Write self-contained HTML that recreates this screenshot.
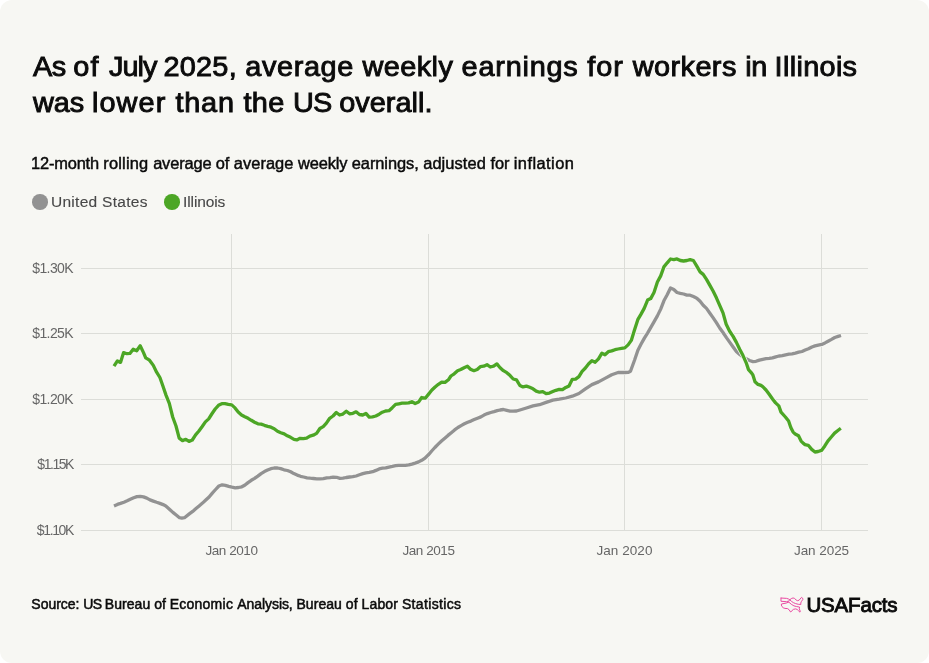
<!DOCTYPE html>
<html lang="en"><head><meta charset="utf-8"><title>Average weekly earnings - Illinois</title>
<style>
html,body{margin:0;padding:0;background:#fff;}
body{width:929px;height:663px;overflow:hidden;font-family:"Liberation Sans",sans-serif;}
.card{position:absolute;left:0;top:0;width:929px;height:663px;background:#f7f7f3;border-radius:12px;overflow:hidden;}
.title{position:absolute;left:0;top:48.6px;margin:0;font-size:27.6px;line-height:36px;font-weight:400;color:#0b0b0b;white-space:nowrap;-webkit-text-stroke:0.9px #0b0b0b;}
.title span{display:block;position:relative;transform-origin:0 0;transform:scaleX(1.047);}
i{font-style:normal;}
.sub{position:absolute;left:31.45px;top:153.3px;margin:0;font-size:16px;line-height:22px;font-weight:400;color:#0b0b0b;white-space:nowrap;-webkit-text-stroke:0.45px #0b0b0b;transform-origin:0 0;transform:scaleX(1.025);}
.legend{position:absolute;left:32px;top:191px;height:22px;font-size:15.5px;line-height:22px;color:#474747;white-space:nowrap;-webkit-text-stroke:0.12px #474747;}
.legend .dot{position:absolute;top:3px;width:15.5px;height:15.5px;border-radius:50%;}
.legend .lab{position:absolute;top:0;}
.src{position:absolute;left:31.35px;top:594px;margin:0;font-size:14px;line-height:20px;color:#0b0b0b;white-space:nowrap;-webkit-text-stroke:0.5px #0b0b0b;}
.logo{position:absolute;left:806.5px;top:591.5px;font-size:20.5px;line-height:26px;font-weight:400;color:#0b0b0b;letter-spacing:-0.18px;white-space:nowrap;-webkit-text-stroke:0.9px #0b0b0b;}
svg text{font-family:"Liberation Sans",sans-serif;}
</style></head><body>
<div class="card">
<h1 class="title"><span style="left:33.19px"><i style="letter-spacing:-0.442px">As </i><i style="letter-spacing:1.123px">of </i><i style="letter-spacing:-0.946px">July </i><i style="letter-spacing:0.219px">2025, </i><i style="letter-spacing:0.593px">average </i><i style="letter-spacing:0.364px">weekly </i><i style="letter-spacing:0.721px">earnings </i><i style="letter-spacing:0.909px">for </i><i style="letter-spacing:0.376px">workers </i><i style="letter-spacing:-0.337px">in </i><i style="letter-spacing:0.295px">Illinois</i></span><span style="left:33.34px"><i style="letter-spacing:-0.119px">was </i><i style="letter-spacing:1.047px">lower </i><i style="letter-spacing:0.696px">than </i><i style="letter-spacing:0.291px">the </i><i style="letter-spacing:-0.609px">US </i><i style="letter-spacing:0.021px">overall.</i></span></h1>
<p class="sub"><i style="letter-spacing:-0.167px">12-month </i><i style="letter-spacing:0.185px">rolling </i><i style="letter-spacing:-0.149px">average </i><i style="letter-spacing:-0.044px">of </i><i style="letter-spacing:0.025px">average </i><i style="letter-spacing:-0.113px">weekly </i><i style="letter-spacing:-0.061px">earnings, </i><i style="letter-spacing:0.091px">adjusted </i><i style="letter-spacing:-0.127px">for </i><i style="letter-spacing:0.434px">inflation</i></p>
<div class="legend">
<span class="dot" style="left:0;background:#929292"></span><span class="lab" style="left:19px;letter-spacing:0.28px">United States</span>
<span class="dot" style="left:132px;background:#4ca625"></span><span class="lab" style="left:151px;letter-spacing:-0.1px">Illinois</span>
</div>
<svg width="929" height="663" viewBox="0 0 929 663" style="position:absolute;left:0;top:0">
<g stroke="#dcddd8" stroke-width="1" fill="none" shape-rendering="crispEdges">
<path d="M81 268.5H868M81 333.5H868M81 399.5H868M81 464.5H868M81 530.5H868"/>
<path d="M231.5 234V531M428.5 234V531M624.5 234V531M821.5 234V531"/>
</g>
<g font-size="14" fill="#666" text-anchor="end" letter-spacing="-0.6">
<text x="73" y="273">$1.30K</text>
<text x="73" y="338">$1.25K</text>
<text x="73" y="404">$1.20K</text>
<text x="73" y="469" letter-spacing="-1.45">$1.15K</text>
<text x="73" y="535" letter-spacing="-1.37">$1.10K</text>
</g>
<g font-size="13.5" fill="#666" text-anchor="middle" letter-spacing="-0.45">
<text x="231.5" y="555">Jan 2010</text>
<text x="428.5" y="555">Jan 2015</text>
<text x="624.5" y="555" letter-spacing="0.05">Jan 2020</text>
<text x="821.5" y="555" letter-spacing="-0.06">Jan 2025</text>
</g>
<g fill="none" stroke-linejoin="round" stroke-linecap="butt">
<path d="M114.0 505.9 L117.4 504.4 L120.5 503.4 L123.9 502.2 L127.2 500.8 L130.3 499.3 L133.7 497.8 L137.0 496.6 L140.2 496.4 L143.5 496.9 L146.8 498.1 L150.0 499.9 L153.3 501.1 L156.6 502.3 L159.9 503.4 L163.1 504.6 L165.8 505.9 L169.7 509.4 L172.9 512.4 L176.2 515.0 L179.5 517.7 L181.9 518.1 L184.5 517.7 L189.3 513.9 L192.7 511.4 L196.0 508.6 L199.1 505.9 L202.5 503.1 L205.8 500.0 L209.1 497.0 L212.3 493.1 L215.6 489.5 L218.9 486.0 L222.2 484.8 L225.4 485.3 L228.7 486.3 L232.0 487.2 L235.2 487.8 L238.5 487.5 L241.8 486.8 L244.7 485.2 L248.0 482.6 L251.3 480.3 L254.6 478.4 L257.8 476.1 L261.1 473.6 L264.4 471.6 L267.6 470.1 L270.9 468.7 L274.2 468.0 L277.5 468.0 L280.7 468.6 L284.0 469.8 L287.4 470.5 L290.7 471.8 L293.8 473.6 L297.2 475.1 L300.5 476.3 L303.6 477.0 L307.0 477.8 L310.3 478.2 L313.6 478.5 L316.8 478.8 L320.1 478.8 L323.4 478.7 L326.7 477.9 L329.9 477.6 L333.2 477.2 L336.5 477.3 L339.9 478.4 L343.0 478.2 L346.3 477.5 L349.7 477.0 L352.8 476.7 L356.1 476.0 L359.5 474.8 L362.8 473.6 L365.9 472.8 L369.3 472.4 L372.7 471.7 L375.9 470.4 L379.2 468.9 L382.5 468.2 L385.7 467.9 L389.0 467.1 L392.3 466.4 L395.6 465.6 L398.8 465.3 L402.1 465.3 L405.4 465.3 L408.8 464.9 L411.9 464.1 L415.2 463.1 L418.6 461.9 L421.7 460.3 L425.0 458.1 L428.4 454.8 L431.7 451.0 L434.9 447.5 L438.2 444.2 L441.5 441.0 L444.8 438.2 L448.0 435.4 L451.3 432.7 L454.6 429.9 L457.9 427.5 L461.1 425.6 L464.4 423.8 L467.7 422.3 L470.9 421.1 L474.2 419.6 L477.5 418.2 L480.9 416.9 L484.0 415.1 L487.4 413.6 L490.7 412.5 L494.0 411.6 L497.2 410.6 L500.1 410.0 L503.4 409.5 L506.8 410.4 L510.1 411.2 L513.2 411.2 L516.5 411.0 L519.9 410.0 L526.4 408.0 L533.0 405.9 L539.5 404.7 L546.1 402.4 L552.8 400.1 L559.2 399.2 L565.8 398.0 L572.3 396.2 L578.9 393.5 L585.4 388.9 L591.9 384.6 L598.5 381.9 L605.0 378.4 L611.7 374.8 L618.1 372.5 L621.5 372.5 L624.8 372.5 L628.1 372.4 L630.5 371.3 L634.6 360.0 L637.9 350.2 L641.1 344.1 L644.4 338.1 L647.7 332.8 L650.7 327.7 L654.0 321.9 L657.4 315.9 L660.7 309.1 L663.9 300.8 L667.2 294.8 L670.5 288.0 L673.8 289.5 L677.0 292.5 L680.3 293.3 L683.6 294.0 L686.9 295.1 L690.1 295.2 L693.4 296.6 L696.8 298.2 L700.1 301.3 L703.2 305.3 L706.5 308.4 L709.9 313.2 L713.2 317.9 L716.4 322.7 L719.7 328.0 L723.0 332.5 L726.6 337.9 L729.8 342.4 L733.1 347.0 L736.4 351.5 L739.7 354.5 L742.9 356.8 L746.2 358.6 L749.5 360.5 L752.9 361.6 L756.0 361.3 L759.4 360.1 L762.7 359.3 L766.0 358.7 L769.2 358.3 L772.5 357.8 L775.8 356.8 L779.0 356.0 L782.3 355.6 L785.6 354.8 L788.9 354.2 L792.1 353.8 L795.4 353.1 L798.7 352.2 L802.0 351.5 L805.2 350.0 L808.5 348.8 L811.9 347.0 L815.0 345.9 L818.3 345.1 L821.7 344.4 L825.0 342.9 L828.1 341.2 L831.5 339.4 L834.8 337.5 L838.1 336.4 L841.0 335.5" stroke="#f7f7f3" stroke-width="4.8"/>
<path d="M114.0 505.9 L117.4 504.4 L120.5 503.4 L123.9 502.2 L127.2 500.8 L130.3 499.3 L133.7 497.8 L137.0 496.6 L140.2 496.4 L143.5 496.9 L146.8 498.1 L150.0 499.9 L153.3 501.1 L156.6 502.3 L159.9 503.4 L163.1 504.6 L165.8 505.9 L169.7 509.4 L172.9 512.4 L176.2 515.0 L179.5 517.7 L181.9 518.1 L184.5 517.7 L189.3 513.9 L192.7 511.4 L196.0 508.6 L199.1 505.9 L202.5 503.1 L205.8 500.0 L209.1 497.0 L212.3 493.1 L215.6 489.5 L218.9 486.0 L222.2 484.8 L225.4 485.3 L228.7 486.3 L232.0 487.2 L235.2 487.8 L238.5 487.5 L241.8 486.8 L244.7 485.2 L248.0 482.6 L251.3 480.3 L254.6 478.4 L257.8 476.1 L261.1 473.6 L264.4 471.6 L267.6 470.1 L270.9 468.7 L274.2 468.0 L277.5 468.0 L280.7 468.6 L284.0 469.8 L287.4 470.5 L290.7 471.8 L293.8 473.6 L297.2 475.1 L300.5 476.3 L303.6 477.0 L307.0 477.8 L310.3 478.2 L313.6 478.5 L316.8 478.8 L320.1 478.8 L323.4 478.7 L326.7 477.9 L329.9 477.6 L333.2 477.2 L336.5 477.3 L339.9 478.4 L343.0 478.2 L346.3 477.5 L349.7 477.0 L352.8 476.7 L356.1 476.0 L359.5 474.8 L362.8 473.6 L365.9 472.8 L369.3 472.4 L372.7 471.7 L375.9 470.4 L379.2 468.9 L382.5 468.2 L385.7 467.9 L389.0 467.1 L392.3 466.4 L395.6 465.6 L398.8 465.3 L402.1 465.3 L405.4 465.3 L408.8 464.9 L411.9 464.1 L415.2 463.1 L418.6 461.9 L421.7 460.3 L425.0 458.1 L428.4 454.8 L431.7 451.0 L434.9 447.5 L438.2 444.2 L441.5 441.0 L444.8 438.2 L448.0 435.4 L451.3 432.7 L454.6 429.9 L457.9 427.5 L461.1 425.6 L464.4 423.8 L467.7 422.3 L470.9 421.1 L474.2 419.6 L477.5 418.2 L480.9 416.9 L484.0 415.1 L487.4 413.6 L490.7 412.5 L494.0 411.6 L497.2 410.6 L500.1 410.0 L503.4 409.5 L506.8 410.4 L510.1 411.2 L513.2 411.2 L516.5 411.0 L519.9 410.0 L526.4 408.0 L533.0 405.9 L539.5 404.7 L546.1 402.4 L552.8 400.1 L559.2 399.2 L565.8 398.0 L572.3 396.2 L578.9 393.5 L585.4 388.9 L591.9 384.6 L598.5 381.9 L605.0 378.4 L611.7 374.8 L618.1 372.5 L621.5 372.5 L624.8 372.5 L628.1 372.4 L630.5 371.3 L634.6 360.0 L637.9 350.2 L641.1 344.1 L644.4 338.1 L647.7 332.8 L650.7 327.7 L654.0 321.9 L657.4 315.9 L660.7 309.1 L663.9 300.8 L667.2 294.8 L670.5 288.0 L673.8 289.5 L677.0 292.5 L680.3 293.3 L683.6 294.0 L686.9 295.1 L690.1 295.2 L693.4 296.6 L696.8 298.2 L700.1 301.3 L703.2 305.3 L706.5 308.4 L709.9 313.2 L713.2 317.9 L716.4 322.7 L719.7 328.0 L723.0 332.5 L726.6 337.9 L729.8 342.4 L733.1 347.0 L736.4 351.5 L739.7 354.5 L742.9 356.8 L746.2 358.6 L749.5 360.5 L752.9 361.6 L756.0 361.3 L759.4 360.1 L762.7 359.3 L766.0 358.7 L769.2 358.3 L772.5 357.8 L775.8 356.8 L779.0 356.0 L782.3 355.6 L785.6 354.8 L788.9 354.2 L792.1 353.8 L795.4 353.1 L798.7 352.2 L802.0 351.5 L805.2 350.0 L808.5 348.8 L811.9 347.0 L815.0 345.9 L818.3 345.1 L821.7 344.4 L825.0 342.9 L828.1 341.2 L831.5 339.4 L834.8 337.5 L838.1 336.4 L841.0 335.5" stroke="#929292" stroke-width="3.3"/>
<path d="M114.0 366.2 L117.4 360.9 L120.5 362.4 L123.6 352.6 L126.9 353.7 L129.9 353.4 L133.2 349.2 L136.7 350.7 L140.2 345.8 L143.5 352.6 L145.7 357.9 L149.5 360.2 L153.3 365.4 L156.6 372.2 L159.9 377.5 L162.9 386.0 L166.0 395.1 L169.3 403.4 L172.7 417.0 L176.0 426.0 L179.2 438.1 L182.5 440.6 L185.8 439.3 L189.0 441.4 L192.3 440.0 L195.6 434.8 L198.9 431.0 L202.2 426.5 L205.4 421.9 L208.7 418.9 L212.1 413.5 L215.2 409.0 L218.5 405.3 L221.8 403.7 L225.0 403.7 L228.3 404.4 L231.7 404.9 L235.0 407.9 L238.2 412.1 L241.5 415.0 L244.8 416.7 L248.1 418.3 L251.3 420.3 L254.6 422.2 L257.9 423.8 L261.1 424.1 L264.4 425.3 L267.7 426.3 L271.0 427.2 L274.2 428.7 L277.5 431.3 L280.8 432.8 L284.2 433.9 L287.3 435.8 L290.6 437.3 L294.0 439.3 L296.8 439.9 L300.1 438.3 L303.3 438.6 L306.6 438.2 L309.9 436.1 L313.2 435.2 L316.6 433.4 L319.9 428.5 L323.2 426.6 L326.4 423.1 L329.7 418.3 L333.0 416.0 L336.3 412.5 L339.6 415.0 L342.9 414.1 L346.3 411.2 L349.6 413.8 L352.9 413.3 L356.1 411.8 L359.4 414.5 L362.7 415.0 L365.9 413.4 L369.2 417.2 L372.5 416.8 L375.8 416.0 L379.2 414.2 L382.3 412.2 L385.6 411.0 L389.0 410.7 L392.3 407.7 L395.6 404.4 L398.9 403.8 L402.1 403.2 L405.4 403.2 L408.7 402.9 L411.9 401.7 L415.2 403.5 L418.5 402.1 L421.7 397.5 L425.0 398.1 L425.3 398.2 L428.6 394.1 L431.9 390.0 L435.1 387.0 L438.4 384.3 L441.7 382.1 L445.0 382.4 L448.4 379.8 L450.9 376.0 L454.2 373.8 L457.6 370.7 L460.7 369.5 L464.1 367.7 L467.4 366.2 L470.5 369.2 L473.9 370.7 L477.2 369.5 L480.3 366.7 L483.7 366.2 L487.0 364.7 L490.3 367.0 L493.6 366.2 L496.9 363.9 L500.1 367.7 L503.4 370.7 L506.8 372.7 L510.1 375.6 L513.2 379.0 L516.5 379.8 L519.9 385.5 L523.0 386.9 L526.4 386.1 L529.7 387.3 L533.0 388.8 L536.2 391.1 L539.5 392.2 L542.8 391.6 L546.1 393.7 L549.4 393.1 L552.8 391.6 L555.9 390.3 L559.2 389.4 L562.5 389.7 L565.8 387.4 L569.0 385.9 L572.3 379.3 L575.6 379.1 L578.9 376.6 L582.1 371.3 L585.4 368.0 L588.7 363.8 L591.9 360.7 L595.2 362.2 L598.5 358.9 L601.9 353.2 L605.0 354.7 L608.3 351.7 L611.7 350.9 L615.0 349.7 L618.1 349.0 L621.5 348.4 L624.8 347.9 L628.1 344.9 L631.3 340.4 L634.4 330.2 L637.8 319.7 L640.9 314.4 L644.2 308.4 L647.6 300.1 L650.7 298.6 L654.0 292.5 L657.4 282.0 L660.7 275.9 L663.9 266.9 L667.2 262.8 L670.5 259.0 L673.8 259.6 L677.0 258.9 L680.3 260.5 L683.6 261.0 L686.9 260.5 L690.1 259.6 L693.4 260.5 L696.8 266.1 L700.1 271.9 L703.2 274.4 L706.5 279.4 L709.9 285.4 L713.2 291.3 L716.4 297.8 L719.7 305.3 L723.0 312.9 L726.2 324.2 L729.5 331.0 L733.1 336.4 L736.4 342.4 L739.7 349.2 L742.9 355.3 L746.2 362.8 L748.5 369.6 L751.2 372.6 L752.9 374.9 L755.0 381.7 L758.0 384.4 L761.0 385.4 L762.7 386.6 L766.0 390.0 L769.2 394.2 L772.5 399.0 L775.6 402.9 L778.8 405.9 L781.0 412.1 L785.4 417.0 L788.6 421.0 L790.8 427.5 L793.1 432.1 L795.2 434.0 L798.5 435.8 L801.1 441.1 L803.4 443.4 L805.0 444.6 L808.3 445.3 L811.7 449.4 L815.0 452.0 L818.1 451.5 L821.5 450.4 L824.8 445.9 L828.0 440.8 L831.3 437.0 L834.6 433.1 L837.9 430.5 L840.8 428.3" stroke="#f7f7f3" stroke-width="4.8"/>
<path d="M114.0 366.2 L117.4 360.9 L120.5 362.4 L123.6 352.6 L126.9 353.7 L129.9 353.4 L133.2 349.2 L136.7 350.7 L140.2 345.8 L143.5 352.6 L145.7 357.9 L149.5 360.2 L153.3 365.4 L156.6 372.2 L159.9 377.5 L162.9 386.0 L166.0 395.1 L169.3 403.4 L172.7 417.0 L176.0 426.0 L179.2 438.1 L182.5 440.6 L185.8 439.3 L189.0 441.4 L192.3 440.0 L195.6 434.8 L198.9 431.0 L202.2 426.5 L205.4 421.9 L208.7 418.9 L212.1 413.5 L215.2 409.0 L218.5 405.3 L221.8 403.7 L225.0 403.7 L228.3 404.4 L231.7 404.9 L235.0 407.9 L238.2 412.1 L241.5 415.0 L244.8 416.7 L248.1 418.3 L251.3 420.3 L254.6 422.2 L257.9 423.8 L261.1 424.1 L264.4 425.3 L267.7 426.3 L271.0 427.2 L274.2 428.7 L277.5 431.3 L280.8 432.8 L284.2 433.9 L287.3 435.8 L290.6 437.3 L294.0 439.3 L296.8 439.9 L300.1 438.3 L303.3 438.6 L306.6 438.2 L309.9 436.1 L313.2 435.2 L316.6 433.4 L319.9 428.5 L323.2 426.6 L326.4 423.1 L329.7 418.3 L333.0 416.0 L336.3 412.5 L339.6 415.0 L342.9 414.1 L346.3 411.2 L349.6 413.8 L352.9 413.3 L356.1 411.8 L359.4 414.5 L362.7 415.0 L365.9 413.4 L369.2 417.2 L372.5 416.8 L375.8 416.0 L379.2 414.2 L382.3 412.2 L385.6 411.0 L389.0 410.7 L392.3 407.7 L395.6 404.4 L398.9 403.8 L402.1 403.2 L405.4 403.2 L408.7 402.9 L411.9 401.7 L415.2 403.5 L418.5 402.1 L421.7 397.5 L425.0 398.1 L425.3 398.2 L428.6 394.1 L431.9 390.0 L435.1 387.0 L438.4 384.3 L441.7 382.1 L445.0 382.4 L448.4 379.8 L450.9 376.0 L454.2 373.8 L457.6 370.7 L460.7 369.5 L464.1 367.7 L467.4 366.2 L470.5 369.2 L473.9 370.7 L477.2 369.5 L480.3 366.7 L483.7 366.2 L487.0 364.7 L490.3 367.0 L493.6 366.2 L496.9 363.9 L500.1 367.7 L503.4 370.7 L506.8 372.7 L510.1 375.6 L513.2 379.0 L516.5 379.8 L519.9 385.5 L523.0 386.9 L526.4 386.1 L529.7 387.3 L533.0 388.8 L536.2 391.1 L539.5 392.2 L542.8 391.6 L546.1 393.7 L549.4 393.1 L552.8 391.6 L555.9 390.3 L559.2 389.4 L562.5 389.7 L565.8 387.4 L569.0 385.9 L572.3 379.3 L575.6 379.1 L578.9 376.6 L582.1 371.3 L585.4 368.0 L588.7 363.8 L591.9 360.7 L595.2 362.2 L598.5 358.9 L601.9 353.2 L605.0 354.7 L608.3 351.7 L611.7 350.9 L615.0 349.7 L618.1 349.0 L621.5 348.4 L624.8 347.9 L628.1 344.9 L631.3 340.4 L634.4 330.2 L637.8 319.7 L640.9 314.4 L644.2 308.4 L647.6 300.1 L650.7 298.6 L654.0 292.5 L657.4 282.0 L660.7 275.9 L663.9 266.9 L667.2 262.8 L670.5 259.0 L673.8 259.6 L677.0 258.9 L680.3 260.5 L683.6 261.0 L686.9 260.5 L690.1 259.6 L693.4 260.5 L696.8 266.1 L700.1 271.9 L703.2 274.4 L706.5 279.4 L709.9 285.4 L713.2 291.3 L716.4 297.8 L719.7 305.3 L723.0 312.9 L726.2 324.2 L729.5 331.0 L733.1 336.4 L736.4 342.4 L739.7 349.2 L742.9 355.3 L746.2 362.8 L748.5 369.6 L751.2 372.6 L752.9 374.9 L755.0 381.7 L758.0 384.4 L761.0 385.4 L762.7 386.6 L766.0 390.0 L769.2 394.2 L772.5 399.0 L775.6 402.9 L778.8 405.9 L781.0 412.1 L785.4 417.0 L788.6 421.0 L790.8 427.5 L793.1 432.1 L795.2 434.0 L798.5 435.8 L801.1 441.1 L803.4 443.4 L805.0 444.6 L808.3 445.3 L811.7 449.4 L815.0 452.0 L818.1 451.5 L821.5 450.4 L824.8 445.9 L828.0 440.8 L831.3 437.0 L834.6 433.1 L837.9 430.5 L840.8 428.3" stroke="#4ca625" stroke-width="3.3"/>
</g>
<g fill="none" stroke="#e8409d" stroke-width="22" stroke-linejoin="round" stroke-linecap="round" transform="translate(775 592) scale(0.0431)">
<path d="M140 140 L270 148 Q320 160 345 182 Q375 145 420 138 Q455 140 490 185 Q520 215 560 190 L615 125 Q650 140 648 170 L610 225 Q590 255 600 290 Q540 290 480 270 Q420 250 380 215 L345 182"/>
<path d="M140 140 L138 215 L270 225 Q310 222 345 182"/>
<path d="M320 235 Q280 260 150 278 Q140 300 160 335 Q190 375 230 380 L290 385 Q330 400 360 462 Q385 460 400 425 Q420 395 480 392 Q520 400 545 435 L580 468 Q595 450 575 420 Q555 390 570 350 Q500 340 440 322 Q380 295 320 235"/>
</g>
</svg>
<p class="src"><i style="letter-spacing:-0.017px">Source: </i><i style="letter-spacing:-0.646px">US </i><i style="letter-spacing:0.052px">Bureau </i><i style="letter-spacing:-0.022px">of </i><i style="letter-spacing:0.249px">Economic </i><i style="letter-spacing:-0.071px">Analysis, </i><i style="letter-spacing:0.038px">Bureau </i><i style="letter-spacing:0.078px">of </i><i style="letter-spacing:0.101px">Labor </i><i style="letter-spacing:0.345px">Statistics</i></p>
<div class="logo">USAFacts</div>
</div>
</body></html>
